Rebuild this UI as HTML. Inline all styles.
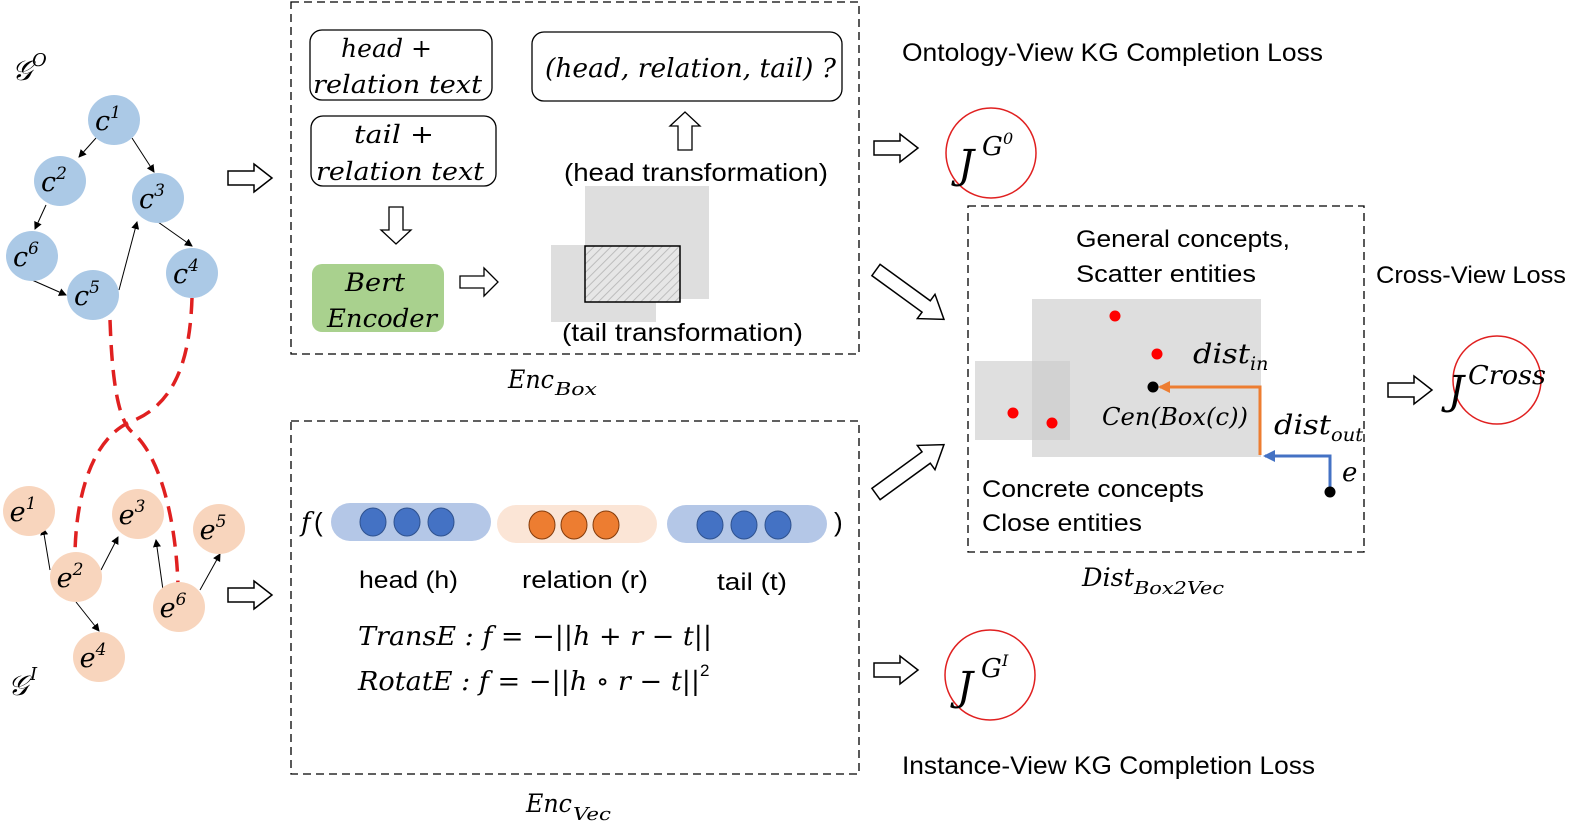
<!DOCTYPE html>
<html><head><meta charset="utf-8"><style>
html,body{margin:0;padding:0;background:#fff;}
svg{display:block;}
.m{font-family:"DejaVu Serif","Liberation Serif",serif;font-style:italic;fill:#000;}
.s{font-family:"Liberation Sans",sans-serif;fill:#000;}
</style></head><body>
<svg width="1575" height="829" viewBox="0 0 1575 829" xmlns="http://www.w3.org/2000/svg">
<defs>
<marker id="ah" markerWidth="8" markerHeight="8" refX="7" refY="4" orient="auto" markerUnits="userSpaceOnUse"><path d="M0,0 L8,4 L0,8 z" fill="#000"/></marker>
<marker id="ao" markerWidth="12" markerHeight="12" refX="10" refY="6" orient="auto" markerUnits="userSpaceOnUse"><path d="M0,0 L12,6 L0,12 z" fill="#ed7d31"/></marker>
<marker id="ab" markerWidth="12" markerHeight="12" refX="10" refY="6" orient="auto" markerUnits="userSpaceOnUse"><path d="M0,0 L12,6 L0,12 z" fill="#4472c4"/></marker>
<pattern id="hatch" width="6" height="6" patternUnits="userSpaceOnUse" patternTransform="rotate(45)"><rect width="6" height="6" fill="#e6e6e6"/><line x1="0" y1="0" x2="0" y2="6" stroke="#bdbdbd" stroke-width="2"/></pattern>
<g id="rarr"><path d="M0,-7 H26 V-14 L44,0 L26,14 V7 H0 Z" fill="#fff" stroke="#000" stroke-width="1.5"/></g>
<g id="darr"><path d="M0,-7 H62 V-15 L84,0 L62,15 V7 H0 Z" fill="#fff" stroke="#000" stroke-width="1.5"/></g>
</defs>

<text x="12" y="80" class="m" font-size="28">𝒢</text><text x="32" y="66" class="m" font-size="18">O</text>
<text x="8" y="695" class="m" font-size="28">𝒢</text><text x="30" y="680" class="m" font-size="18">I</text>

<path d="M110,320 C112,380 118,420 132,432 C160,455 176,520 178,585" fill="none" stroke="#e02020" stroke-width="3.5" stroke-dasharray="16,9"/>
<path d="M192,298 C190,360 175,405 130,422 C90,440 76,500 75,553" fill="none" stroke="#e02020" stroke-width="3.5" stroke-dasharray="16,9"/>

<g stroke="#000" stroke-width="1" marker-end="url(#ah)" fill="none">
<line x1="96" y1="138" x2="79" y2="157"/>
<line x1="132" y1="138" x2="154" y2="172"/>
<line x1="46" y1="205" x2="35" y2="229"/>
<line x1="32" y1="280" x2="66" y2="295"/>
<line x1="119" y1="290" x2="137" y2="222"/>
<line x1="158" y1="222" x2="192" y2="246"/>
<line x1="50" y1="570" x2="43" y2="528"/>
<line x1="101" y1="570" x2="118" y2="537"/>
<line x1="76" y1="602" x2="99" y2="631"/>
<line x1="163" y1="590" x2="156" y2="540"/>
<line x1="200" y1="590" x2="220" y2="554"/>
</g>

<g fill="#abc9e6">
<ellipse cx="114" cy="120" rx="26" ry="25"/>
<ellipse cx="60" cy="181" rx="26" ry="25"/>
<ellipse cx="158" cy="198" rx="26" ry="25"/>
<ellipse cx="32" cy="256" rx="26" ry="25"/>
<ellipse cx="93" cy="295" rx="26" ry="25"/>
<ellipse cx="192" cy="273" rx="26" ry="25"/>
</g>
<g class="m" font-size="27" text-anchor="middle">
<text x="108" y="130">c<tspan font-size="17" dy="-12">1</tspan></text>
<text x="54" y="191">c<tspan font-size="17" dy="-12">2</tspan></text>
<text x="152" y="208">c<tspan font-size="17" dy="-12">3</tspan></text>
<text x="26" y="266">c<tspan font-size="17" dy="-12">6</tspan></text>
<text x="87" y="305">c<tspan font-size="17" dy="-12">5</tspan></text>
<text x="186" y="283">c<tspan font-size="17" dy="-12">4</tspan></text>
</g>
<g fill="#f8d5bd">
<ellipse cx="29" cy="511" rx="26" ry="25"/>
<ellipse cx="76" cy="577" rx="26" ry="25"/>
<ellipse cx="138" cy="514" rx="26" ry="25"/>
<ellipse cx="219" cy="529" rx="26" ry="25"/>
<ellipse cx="179" cy="607" rx="26" ry="25"/>
<ellipse cx="99" cy="657" rx="26" ry="25"/>
</g>
<g class="m" font-size="27" text-anchor="middle">
<text x="23" y="521">e<tspan font-size="17" dy="-12">1</tspan></text>
<text x="70" y="587">e<tspan font-size="17" dy="-12">2</tspan></text>
<text x="132" y="524">e<tspan font-size="17" dy="-12">3</tspan></text>
<text x="213" y="539">e<tspan font-size="17" dy="-12">5</tspan></text>
<text x="173" y="617">e<tspan font-size="17" dy="-12">6</tspan></text>
<text x="93" y="667">e<tspan font-size="17" dy="-12">4</tspan></text>
</g>

<use href="#rarr" x="228" y="178"/>
<use href="#rarr" x="228" y="595"/>

<rect x="291" y="2" width="568" height="352" fill="none" stroke="#000" stroke-width="1.3" stroke-dasharray="8,5"/>
<rect x="310" y="30" width="182" height="70" rx="12" fill="#fff" stroke="#000" stroke-width="1.3"/>
<text x="341" y="57" class="m" font-size="25" textLength="91" lengthAdjust="spacingAndGlyphs">head +</text>
<text x="313" y="93" class="m" font-size="25" textLength="169" lengthAdjust="spacingAndGlyphs">relation text</text>
<rect x="311" y="116" width="185" height="70" rx="12" fill="#fff" stroke="#000" stroke-width="1.3"/>
<text x="354" y="143" class="m" font-size="25" textLength="80" lengthAdjust="spacingAndGlyphs">tail +</text>
<text x="316" y="180" class="m" font-size="25" textLength="168" lengthAdjust="spacingAndGlyphs">relation text</text>
<path d="M389,207 H403 V230 H411 L396,244 L381,230 H389 Z" fill="#fff" stroke="#000" stroke-width="1.3"/>
<rect x="312" y="264" width="132" height="68" rx="10" fill="#a9d18e"/>
<text x="345" y="291" class="m" font-size="25" textLength="60" lengthAdjust="spacingAndGlyphs">Bert</text>
<text x="327" y="327" class="m" font-size="25" textLength="110" lengthAdjust="spacingAndGlyphs">Encoder</text>
<path d="M460,276 H484 V268 L498,282 L484,296 V288 H460 Z" fill="#fff" stroke="#000" stroke-width="1.3"/>
<rect x="532" y="32" width="310" height="69" rx="12" fill="#fff" stroke="#000" stroke-width="1.3"/>
<text x="545" y="77" class="m" font-size="26" textLength="291" lengthAdjust="spacingAndGlyphs">(head, relation, tail) ?</text>
<path d="M678,150 V126 H670 L685,112 L700,126 H692 V150 Z" fill="#fff" stroke="#000" stroke-width="1.3"/>
<text x="564" y="181" class="s" font-size="25" textLength="264" lengthAdjust="spacingAndGlyphs">(head transformation)</text>
<rect x="585" y="186" width="124" height="113" fill="#dedede"/>
<rect x="551" y="245" width="105" height="77" fill="#dedede"/>
<rect x="585" y="246" width="95" height="56" fill="url(#hatch)" stroke="#000" stroke-width="1.5"/>
<text x="562" y="341" class="s" font-size="25" textLength="241" lengthAdjust="spacingAndGlyphs">(tail transformation)</text>
<text x="508" y="388" class="m" font-size="25" textLength="46" lengthAdjust="spacingAndGlyphs">Enc</text>
<text x="555" y="395" class="m" font-size="18" textLength="42" lengthAdjust="spacingAndGlyphs">Box</text>

<rect x="291" y="421" width="568" height="353" fill="none" stroke="#000" stroke-width="1.3" stroke-dasharray="8,5"/>
<text x="301" y="531" class="m" font-size="26">f</text><text x="314" y="531" class="s" font-size="26">(</text>
<text x="834" y="531" class="s" font-size="26">)</text>
<rect x="331" y="503" width="160" height="38" rx="19" fill="#b4c7e7"/>
<rect x="497" y="505" width="160" height="38" rx="19" fill="#fbe5d6"/>
<rect x="667" y="505" width="160" height="38" rx="19" fill="#b4c7e7"/>
<g fill="#4472c4" stroke="#2f528f" stroke-width="1">
<ellipse cx="373" cy="522" rx="13" ry="14"/><ellipse cx="407" cy="522" rx="13" ry="14"/><ellipse cx="441" cy="522" rx="13" ry="14"/>
<ellipse cx="710" cy="525" rx="13" ry="14"/><ellipse cx="744" cy="525" rx="13" ry="14"/><ellipse cx="778" cy="525" rx="13" ry="14"/>
</g>
<g fill="#ed7d31" stroke="#843c0c" stroke-width="1">
<ellipse cx="542" cy="525" rx="13" ry="14"/><ellipse cx="574" cy="525" rx="13" ry="14"/><ellipse cx="606" cy="525" rx="13" ry="14"/>
</g>
<text x="359" y="588" class="s" font-size="24" textLength="99" lengthAdjust="spacingAndGlyphs">head (h)</text>
<text x="522" y="588" class="s" font-size="24" textLength="126" lengthAdjust="spacingAndGlyphs">relation (r)</text>
<text x="717" y="590" class="s" font-size="24" textLength="70" lengthAdjust="spacingAndGlyphs">tail (t)</text>
<text x="358" y="645" class="m" font-size="26" textLength="354" lengthAdjust="spacingAndGlyphs">TransE : f = −||h + r − t||</text>
<text x="358" y="690" class="m" font-size="26" textLength="342" lengthAdjust="spacingAndGlyphs">RotatE : f = −||h ∘ r − t||</text>
<text x="700" y="676" class="s" font-size="17">2</text>
<text x="526" y="812" class="m" font-size="25" textLength="46" lengthAdjust="spacingAndGlyphs">Enc</text>
<text x="573" y="820" class="m" font-size="18" textLength="38" lengthAdjust="spacingAndGlyphs">Vec</text>

<use href="#rarr" x="874" y="148"/>
<use href="#rarr" x="874" y="670"/>
<use href="#rarr" x="1388" y="390"/>
<use href="#darr" transform="translate(876,270) rotate(36)"/>
<use href="#darr" transform="translate(876,494) rotate(-36)"/>

<text x="902" y="61" class="s" font-size="25" textLength="421" lengthAdjust="spacingAndGlyphs">Ontology-View KG Completion Loss</text>
<text x="902" y="774" class="s" font-size="25" textLength="413" lengthAdjust="spacingAndGlyphs">Instance-View KG Completion Loss</text>
<text x="1376" y="283" class="s" font-size="24" textLength="190" lengthAdjust="spacingAndGlyphs">Cross-View Loss</text>

<circle cx="991" cy="153" r="45" fill="none" stroke="#e02020" stroke-width="1.5"/>
<text x="958" y="178" class="m" font-size="40">J</text><text x="982" y="155" class="m" font-size="26">G</text><text x="1003" y="144" class="m" font-size="16">0</text>
<circle cx="990" cy="675" r="45" fill="none" stroke="#e02020" stroke-width="1.5"/>
<text x="957" y="700" class="m" font-size="40">J</text><text x="981" y="677" class="m" font-size="26">G</text><text x="1002" y="666" class="m" font-size="16">I</text>
<circle cx="1497" cy="380" r="44" fill="none" stroke="#e02020" stroke-width="1.5"/>
<text x="1448" y="404" class="m" font-size="40">J</text><text x="1468" y="384" class="m" font-size="26" textLength="78" lengthAdjust="spacingAndGlyphs">Cross</text>

<rect x="968" y="206" width="396" height="346" fill="none" stroke="#000" stroke-width="1.3" stroke-dasharray="8,5"/>
<text x="1076" y="247" class="s" font-size="24" textLength="214" lengthAdjust="spacingAndGlyphs">General concepts,</text>
<text x="1076" y="282" class="s" font-size="24" textLength="180" lengthAdjust="spacingAndGlyphs">Scatter entities</text>
<rect x="1032" y="299" width="229" height="158" fill="#dedede"/>
<rect x="975" y="361" width="95" height="79" fill="#c9c9c9" opacity="0.6"/>
<g fill="#ff0000"><circle cx="1115" cy="316" r="5.5"/><circle cx="1157" cy="354" r="5.5"/><circle cx="1013" cy="413" r="5.5"/><circle cx="1052" cy="423" r="5.5"/></g>
<polyline points="1260,455 1260,387 1160,387" fill="none" stroke="#ed7d31" stroke-width="3" marker-end="url(#ao)"/>
<polyline points="1330,490 1330,456 1265,456" fill="none" stroke="#4472c4" stroke-width="3" marker-end="url(#ab)"/>
<circle cx="1153" cy="387" r="5.5" fill="#000"/>
<circle cx="1330" cy="492" r="5.5" fill="#000"/>
<text x="1102" y="425" class="m" font-size="24" textLength="146" lengthAdjust="spacingAndGlyphs">Cen(Box(c))</text>
<text x="1193" y="363" class="m" font-size="27" textLength="57" lengthAdjust="spacingAndGlyphs">dist</text>
<text x="1250" y="370" class="m" font-size="19">in</text>
<text x="1274" y="434" class="m" font-size="27" textLength="57" lengthAdjust="spacingAndGlyphs">dist</text>
<text x="1331" y="441" class="m" font-size="19" textLength="32" lengthAdjust="spacingAndGlyphs">out</text>
<text x="1342" y="481" class="m" font-size="26">e</text>
<text x="982" y="497" class="s" font-size="24" textLength="222" lengthAdjust="spacingAndGlyphs">Concrete concepts</text>
<text x="982" y="531" class="s" font-size="24" textLength="160" lengthAdjust="spacingAndGlyphs">Close entities</text>
<text x="1082" y="586" class="m" font-size="25" textLength="52" lengthAdjust="spacingAndGlyphs">Dist</text>
<text x="1134" y="594" class="m" font-size="18" textLength="90" lengthAdjust="spacingAndGlyphs">Box2Vec</text>
</svg>
</body></html>
